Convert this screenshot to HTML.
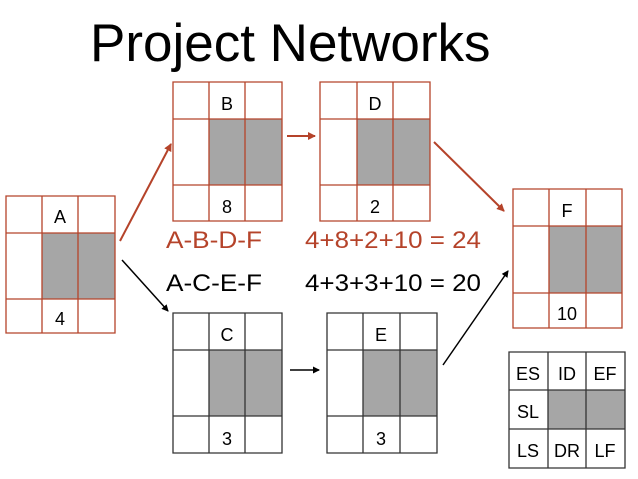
<!DOCTYPE html>
<html><head><style>
body{margin:0;background:#fff;width:638px;height:479px;overflow:hidden;position:relative;font-family:"Liberation Sans",sans-serif}
.t{position:absolute;white-space:nowrap}
</style></head><body>
<div class="t" style="left:90px;top:13px;font-size:53px;color:#000">Project Networks</div>
<svg width="638" height="479" style="position:absolute;left:0;top:0" font-family="Liberation Sans, sans-serif">
<defs>
<marker id="mr" markerWidth="8" markerHeight="8" refX="7" refY="4" orient="auto" markerUnits="userSpaceOnUse"><path d="M0,0L8,4L0,8z" fill="#b5432a"/></marker>
<marker id="mb" markerWidth="7" markerHeight="7" refX="6" refY="3.5" orient="auto" markerUnits="userSpaceOnUse"><path d="M0,0L7,3.5L0,7z" fill="#000"/></marker>
</defs>
<g fill="#a6a6a6">
<rect x="42" y="233" width="73" height="66"/>
<rect x="209" y="119" width="73" height="66"/>
<rect x="357" y="119" width="73" height="66"/>
<rect x="209" y="350" width="73" height="66"/>
<rect x="363" y="350" width="74" height="66"/>
<rect x="549" y="226" width="73" height="67"/>
<rect x="548" y="390" width="77" height="39"/>
</g>
<g fill="none" stroke="#b5432a" stroke-width="1.3">
<path d="M6,196H115V333H6Z M42,196V333 M78,196V333 M6,233H115 M6,299H115"/>
<path d="M173,82H282V221H173Z M209,82V221 M245,82V221 M173,119H282 M173,185H282"/>
<path d="M320,82H430V221H320Z M357,82V221 M393,82V221 M320,119H430 M320,185H430"/>
<path d="M513,189H622V328H513Z M549,189V328 M586,189V328 M513,226H622 M513,293H622"/>
</g>
<g fill="none" stroke="#333" stroke-width="1.3">
<path d="M173,313H282V453H173Z M209,313V453 M245,313V453 M173,350H282 M173,416H282"/>
<path d="M327,313H437V453H327Z M363,313V453 M400,313V453 M327,350H437 M327,416H437"/>
<path d="M509,352H625V468H509Z M548,352V468 M586,352V468 M509,390H625 M509,429H625"/>
</g>
<g font-size="18" text-anchor="middle" fill="#000">
<text x="60" y="223">A</text><text x="60" y="325">4</text>
<text x="227" y="110">B</text><text x="227" y="213">8</text>
<text x="375" y="110">D</text><text x="375" y="213">2</text>
<text x="227" y="341">C</text><text x="227" y="445">3</text>
<text x="381" y="341">E</text><text x="381" y="445">3</text>
<text x="567" y="217">F</text><text x="567" y="320">10</text>
<text x="528" y="380">ES</text><text x="567" y="380">ID</text><text x="605" y="380">EF</text>
<text x="528" y="418">SL</text>
<text x="528" y="457">LS</text><text x="567" y="457">DR</text><text x="605" y="457">LF</text>
</g>
<line x1="120" y1="241" x2="171" y2="144" stroke="#b5432a" stroke-width="2" marker-end="url(#mr)"/>
<line x1="287" y1="136" x2="315" y2="136" stroke="#b5432a" stroke-width="2" marker-end="url(#mr)"/>
<line x1="434" y1="142" x2="504" y2="211" stroke="#b5432a" stroke-width="2" marker-end="url(#mr)"/>
<line x1="122" y1="260" x2="168" y2="311" stroke="#000" stroke-width="1.5" marker-end="url(#mb)"/>
<line x1="290" y1="370" x2="319" y2="370" stroke="#000" stroke-width="1.5" marker-end="url(#mb)"/>
<line x1="443" y1="365" x2="508" y2="271" stroke="#000" stroke-width="1.5" marker-end="url(#mb)"/>
<text x="166" y="248" font-size="24" fill="#b5432a" textLength="96" lengthAdjust="spacingAndGlyphs">A-B-D-F</text>
<text x="305" y="248" font-size="24" fill="#b5432a" textLength="176" lengthAdjust="spacingAndGlyphs">4+8+2+10 = 24</text>
<text x="166" y="291" font-size="24" fill="#000" textLength="96" lengthAdjust="spacingAndGlyphs">A-C-E-F</text>
<text x="305" y="291" font-size="24" fill="#000" textLength="176" lengthAdjust="spacingAndGlyphs">4+3+3+10 = 20</text>
</svg>
</body></html>
